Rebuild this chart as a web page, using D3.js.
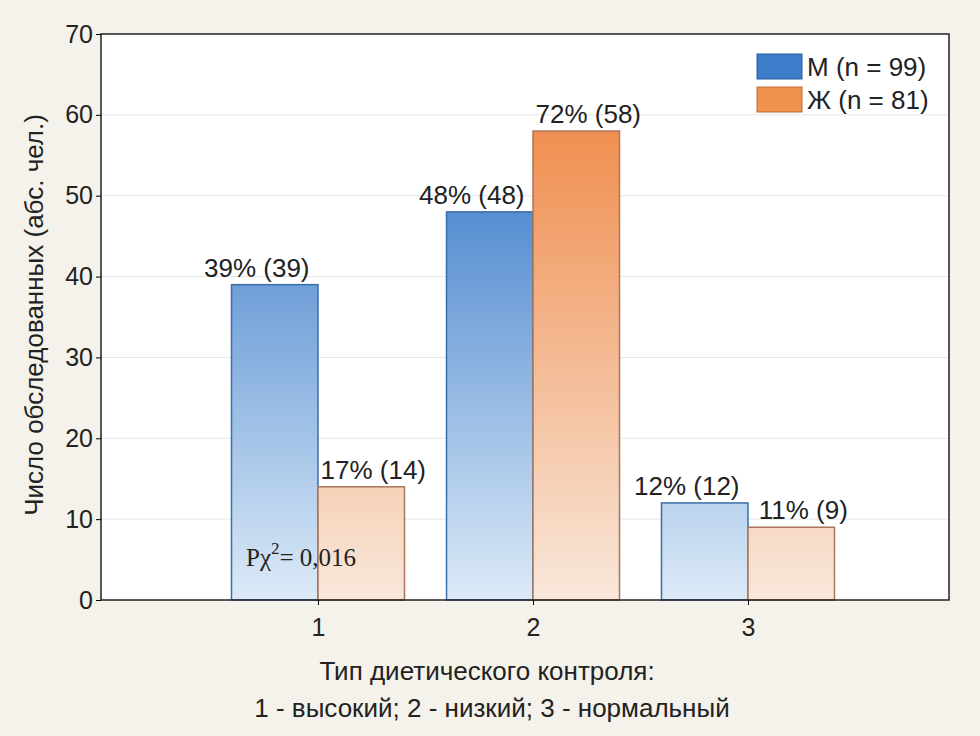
<!DOCTYPE html>
<html><head><meta charset="utf-8">
<script src="https://cdn.jsdelivr.net/npm/d3@7"></script>
<style>body{margin:0;background:#f4f2ea;}svg{display:block;font-family:"Liberation Sans",Arial,sans-serif;}</style>
</head><body>
<svg id="c" width="980" height="736"></svg>
<script>
const categories = [1, 2, 3];
const seriesNames = ["М (n = 99)", "Ж (n = 81)"];
const male = [39, 48, 12];
const female = [14, 58, 9];
const maleLabels = ["39% (39)", "48% (48)", "12% (12)"];
const femaleLabels = ["17% (14)", "72% (58)", "11% (9)"];
const yTicks = [0, 10, 20, 30, 40, 50, 60, 70];

const svg = d3.select("#c");
const L = 101, R = 949, T = 34, B = 600;
const x = d3.scaleLinear().domain([0, 1]).range([103, 318]);
const y = d3.scaleLinear().domain([0, 70]).range([B, T]);
const bw = 86.5;
const FS = 26;

const defs = svg.append("defs");
function grad(id, top, bot) {
  const g = defs.append("linearGradient").attr("id", id).attr("gradientUnits", "userSpaceOnUse")
    .attr("x1", 0).attr("x2", 0).attr("y1", y(60)).attr("y2", B);
  g.append("stop").attr("offset", "0%").attr("stop-color", top);
  g.append("stop").attr("offset", "100%").attr("stop-color", bot);
}
grad("gm", "#3477c8", "#dceaf7");
grad("gf", "#f08c4c", "#f8e7da");

svg.append("rect").attr("x", L).attr("y", T).attr("width", R - L).attr("height", B - T).attr("fill", "#fff");
svg.append("g").selectAll("line").data(yTicks.slice(1, -1)).join("line")
  .attr("x1", L).attr("x2", R).attr("y1", d => y(d)).attr("y2", d => y(d))
  .attr("stroke", "#e6e6e6");

const pal = [{d: male, lab: maleLabels, fill: "url(#gm)", st: "#3a6ea8", off: -1, lo: -18},
             {d: female, lab: femaleLabels, fill: "url(#gf)", st: "#a8775a", off: 0, lo: 12}];
pal.forEach(p => {
  svg.append("g").selectAll("rect").data(categories).join("rect")
    .attr("x", (c, i) => x(c) + p.off * bw).attr("y", (c, i) => y(p.d[i]))
    .attr("width", bw).attr("height", (c, i) => y(0) - y(p.d[i]))
    .attr("fill", p.fill).attr("stroke", p.st).attr("stroke-width", 1.5);
  svg.append("g").selectAll("text").data(categories).join("text")
    .attr("x", (c, i) => x(c) + p.off * bw + bw / 2 + p.lo).attr("y", (c, i) => y(p.d[i]) - 8)
    .attr("text-anchor", "middle").attr("font-size", FS).attr("fill", "#222")
    .text((c, i) => p.lab[i]);
});

svg.append("rect").attr("x", L).attr("y", T).attr("width", R - L).attr("height", B - T)
  .attr("fill", "none").attr("stroke", "#222").attr("stroke-width", 1.5);

const ya = svg.append("g").attr("transform", `translate(${L},0)`)
  .call(d3.axisLeft(y).tickValues(yTicks).tickSize(5).tickSizeOuter(0));
ya.select(".domain").remove();
ya.selectAll("text").attr("font-size", FS - 1).attr("fill", "#222").attr("font-family", "Liberation Sans, Arial");
const xa = svg.append("g").attr("transform", `translate(0,${B})`)
  .call(d3.axisBottom(x).tickValues(categories).tickFormat(d3.format("d")).tickSize(5).tickSizeOuter(0));
xa.select(".domain").remove();
xa.selectAll("text").attr("font-size", FS - 1).attr("fill", "#222").attr("dy", "1.1em").attr("font-family", "Liberation Sans, Arial");

svg.append("text").attr("transform", "translate(43,315) rotate(-90)").attr("text-anchor", "middle")
  .attr("font-size", FS).attr("fill", "#222").text("Число обследованных (абс. чел.)");
svg.append("text").attr("x", 487).attr("y", 680).attr("text-anchor", "middle").attr("font-size", FS).attr("fill", "#222")
  .text("Тип диетического контроля:");
svg.append("text").attr("x", 492).attr("y", 717).attr("text-anchor", "middle").attr("font-size", FS).attr("fill", "#222")
  .text("1 - высокий; 2 - низкий; 3 - нормальный");

const pt = svg.append("text").attr("x", 246).attr("y", 566).attr("font-family", "Liberation Serif, Times New Roman, serif")
  .attr("font-size", 25).attr("fill", "#222");
pt.append("tspan").text("Pχ");
pt.append("tspan").attr("dy", -12).attr("font-size", 17).text("2");
pt.append("tspan").attr("dy", 12).text("= 0,016");

const lg = svg.append("g");
[["#3d7cc9", "#2a5d9a"], ["#f1924f", "#b86a3a"]].forEach((c, i) => {
  lg.append("rect").attr("x", 757).attr("y", 54 + i * 33).attr("width", 45).attr("height", 25)
    .attr("fill", c[0]).attr("stroke", c[1]);
  lg.append("text").attr("x", 807).attr("y", 76 + i * 33).attr("font-size", FS).attr("fill", "#222").text(seriesNames[i]);
});
</script>
</body></html>
